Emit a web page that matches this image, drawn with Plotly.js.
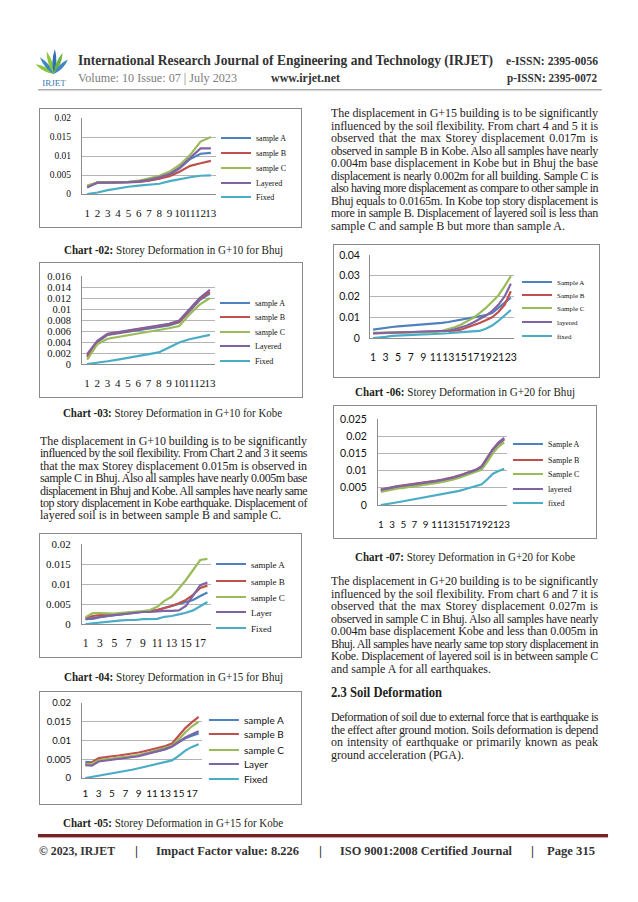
<!DOCTYPE html>
<html>
<head>
<meta charset="utf-8">
<script src="https://cdn.plot.ly/plotly-3.0.1.min.js"></script>
<style>
  body { margin: 0; width: 638px; height: 902px; background: #fff; position: relative; overflow: hidden;
         font-family: "Liberation Serif", serif; color: #231f20; }
  .t { position: absolute; white-space: nowrap; line-height: 14px; display: inline-block; }
  .ln { position: absolute; white-space: nowrap; text-align: justify; text-align-last: justify;
        font-size: 12px; line-height: 14px; color: #1f1b1c; }
  .box { position: absolute; border: 1px solid #8a8a8a; box-sizing: border-box; }
  .plot { position: absolute; }
</style>
</head>
<body>

<svg style="position:absolute;left:36px;top:43px" width="36" height="46">
  <g transform="translate(18,31)">
    <path d="M0,0 Q4,-10 0,-21 Q-4,-10 0,0Z" fill="#8cc63f" transform="rotate(-62)"/>
    <path d="M0,0 Q4,-10 0,-22 Q-4,-10 0,0Z" fill="#3f86c6" transform="rotate(-40)"/>
    <path d="M0,0 Q4,-11 0,-24 Q-4,-11 0,0Z" fill="#8cc63f" transform="rotate(-18)"/>
    <path d="M0,0 Q4,-11 0,-25 Q-4,-11 0,0Z" fill="#2f6fb3" transform="rotate(2)"/>
    <path d="M0,0 Q4,-11 0,-23 Q-4,-11 0,0Z" fill="#6db33f" transform="rotate(22)"/>
    <path d="M0,0 Q4,-10 0,-20 Q-4,-10 0,0Z" fill="#3f86c6" transform="rotate(44)"/>
  </g>
  <text x="18" y="43" text-anchor="middle" font-family="Liberation Serif" font-size="9" fill="#3a79b8">IRJET</text>
</svg>

<div id="c02" class="plot"></div>
<div id="c03" class="plot"></div>
<div id="c04" class="plot"></div>
<div id="c05" class="plot"></div>
<div id="c06" class="plot"></div>
<div id="c07" class="plot"></div>

<div style="position:absolute;left:38px;top:89px;width:564px;height:1px;background:#a9a9a9;box-shadow:0 1px 1px #d0d0d0"></div>
<div style="position:absolute;left:38px;top:834px;width:570px;height:3px;background:#7a1f24;box-shadow:0 1px 1px #b9a3a3"></div>

<script>
// ---- data: storey numbers and axis labels ----
const storeys13 = [1, 2, 3, 4, 5, 6, 7, 8, 9, 10, 11, 12, 13];
const storeys18 = [1, 2, 3, 4, 5, 6, 7, 8, 9, 10, 11, 12, 13, 14, 15, 16, 17, 18];
const storeys23 = [1, 2, 3, 4, 5, 6, 7, 8, 9, 10, 11, 12, 13, 14, 15, 16, 17, 18, 19, 20, 21, 22, 23];
const ticks13 = [1, 2, 3, 4, 5, 6, 7, 8, 9, 10, 11, 12, 13];
const ticks18 = [1, 3, 5, 7, 9, 11, 13, 15, 17];
const ticks23 = [1, 3, 5, 7, 9, 11, 13, 15, 17, 19, 21, 23];

const namesG10 = ['sample A', 'sample B', 'sample C', 'Layered', 'Fixed'];
const namesG15 = ['sample A', 'sample B', 'sample C', 'Layer', 'Fixed'];
const namesG20 = ['Sample A', 'Sample B', 'Sample C', 'layered', 'fixed'];

const seriesColors = ['#4F81BD', '#C0504D', '#9BBB59', '#8064A2', '#4BACC6'];

// chart 02 - G+10 Bhuj
const g10BhujA = [0.002, 0.003, 0.003, 0.003, 0.0031, 0.0032, 0.0036, 0.0041, 0.005, 0.0068, 0.0092, 0.0106, 0.0108];
const g10BhujB = [0.002, 0.003, 0.003, 0.003, 0.0031, 0.0032, 0.0035, 0.004, 0.0047, 0.0059, 0.0074, 0.0081, 0.0087];
const g10BhujC = [0.0022, 0.003, 0.003, 0.0031, 0.0032, 0.0035, 0.0041, 0.0048, 0.0059, 0.0077, 0.0103, 0.0138, 0.015];
const g10BhujL = [0.0017, 0.003, 0.003, 0.003, 0.0031, 0.0033, 0.0037, 0.0044, 0.0053, 0.007, 0.0094, 0.012, 0.012];
const g10BhujF = [0, 0.0004, 0.001, 0.0015, 0.0019, 0.0022, 0.0025, 0.0027, 0.0034, 0.004, 0.0044, 0.0048, 0.0049];

// chart 03 - G+10 Kobe
const g10KobeA = [0.0015, 0.004, 0.0053, 0.0056, 0.0059, 0.0062, 0.0065, 0.0068, 0.007, 0.0076, 0.0096, 0.0116, 0.0128];
const g10KobeB = [0.0013, 0.0041, 0.0054, 0.0057, 0.006, 0.0063, 0.0066, 0.0069, 0.0072, 0.0077, 0.0098, 0.0118, 0.0131];
const g10KobeC = [0.0008, 0.0036, 0.0046, 0.0049, 0.0052, 0.0056, 0.0059, 0.0062, 0.0065, 0.0069, 0.009, 0.0108, 0.012];
const g10KobeL = [0.0018, 0.0042, 0.0055, 0.0058, 0.0061, 0.0064, 0.0067, 0.007, 0.0073, 0.0079, 0.01, 0.012, 0.0135];
const g10KobeF = [0, 0.0002, 0.0005, 0.0008, 0.0011, 0.0015, 0.0018, 0.0021, 0.003, 0.0039, 0.0045, 0.0049, 0.0053];

// chart 04 - G+15 Bhuj
const g15BhujA = [0.0012, 0.0013, 0.0017, 0.002, 0.0022, 0.0024, 0.0026, 0.0028, 0.003, 0.0032, 0.0035, 0.004, 0.0045, 0.005, 0.0055, 0.006, 0.007, 0.0079];
const g15BhujB = [0.0015, 0.002, 0.0022, 0.0022, 0.0024, 0.0026, 0.0028, 0.003, 0.003, 0.0032, 0.0035, 0.004, 0.0045, 0.0052, 0.006, 0.0073, 0.009, 0.0096];
const g15BhujC = [0.0017, 0.0027, 0.0027, 0.0026, 0.0026, 0.0028, 0.0029, 0.003, 0.0032, 0.0035, 0.0043, 0.0058, 0.0068, 0.0088, 0.011, 0.0135, 0.016, 0.0163];
const g15BhujL = [0.0012, 0.0015, 0.0018, 0.002, 0.0022, 0.0024, 0.0025, 0.0028, 0.003, 0.003, 0.0032, 0.0033, 0.0033, 0.0034, 0.0045, 0.007, 0.0097, 0.0104];
const g15BhujF = [0, 0.0002, 0.0003, 0.0005, 0.0008, 0.0009, 0.001, 0.001, 0.0012, 0.0013, 0.0013, 0.0018, 0.002, 0.0024, 0.0028, 0.0034, 0.0044, 0.0055];

// chart 05 - G+15 Kobe
const g15KobeA = [0.0043, 0.0042, 0.0047, 0.0048, 0.005, 0.0052, 0.0054, 0.0057, 0.006, 0.0065, 0.0068, 0.0072, 0.0077, 0.0084, 0.0095, 0.0106, 0.0113, 0.0119];
const g15KobeB = [0.0035, 0.0042, 0.0053, 0.0056, 0.0058, 0.006, 0.0062, 0.0065, 0.0068, 0.0072, 0.0076, 0.008, 0.0085, 0.0092, 0.0113, 0.0133, 0.0149, 0.0163];
const g15KobeC = [0.0036, 0.0038, 0.0047, 0.0049, 0.0051, 0.0053, 0.0056, 0.0058, 0.0061, 0.0065, 0.007, 0.0074, 0.0079, 0.0086, 0.0103, 0.0122, 0.0138, 0.015];
const g15KobeL = [0.0034, 0.0033, 0.0044, 0.0046, 0.0048, 0.005, 0.0053, 0.0055, 0.0058, 0.0063, 0.0067, 0.0071, 0.0077, 0.0084, 0.0096, 0.0108, 0.0117, 0.0125];
const g15KobeF = [0, 0.0003, 0.0007, 0.001, 0.0013, 0.0016, 0.0019, 0.0022, 0.0026, 0.003, 0.0034, 0.0039, 0.0043, 0.0047, 0.0059, 0.0073, 0.0083, 0.009];

// chart 06 - G+20 Bhuj
const g20BhujA = [0.004, 0.0045, 0.005, 0.0053, 0.0056, 0.0058, 0.006, 0.0062, 0.0064, 0.0067, 0.007, 0.0073, 0.0077, 0.0082, 0.0087, 0.0092, 0.0097, 0.0103, 0.011, 0.012, 0.0145, 0.017, 0.0195];
const g20BhujB = [0.0022, 0.0023, 0.0024, 0.0025, 0.0026, 0.0026, 0.0027, 0.0027, 0.0028, 0.0028, 0.0029, 0.003, 0.0032, 0.0035, 0.004, 0.005, 0.006, 0.0072, 0.0085, 0.01, 0.0125, 0.016, 0.0225];
const g20BhujC = [0.0025, 0.0025, 0.0026, 0.0027, 0.0027, 0.0027, 0.0027, 0.0028, 0.0028, 0.0029, 0.003, 0.0035, 0.0042, 0.0052, 0.0064, 0.008, 0.0097, 0.012, 0.0145, 0.0175, 0.0205, 0.025, 0.0298];
const g20BhujL = [0.0023, 0.0024, 0.0025, 0.0026, 0.0026, 0.0027, 0.0027, 0.0028, 0.0028, 0.0029, 0.003, 0.0032, 0.0035, 0.0042, 0.005, 0.006, 0.0075, 0.009, 0.0108, 0.013, 0.016, 0.02, 0.0262];
const g20BhujF = [0, 0.0002, 0.0005, 0.001, 0.0012, 0.0014, 0.0015, 0.0016, 0.0017, 0.0018, 0.0019, 0.002, 0.0023, 0.0026, 0.0028, 0.003, 0.0032, 0.0034, 0.0045, 0.006, 0.0082, 0.0108, 0.0135];

// chart 07 - G+20 Kobe
const g20KobeA = [0.0042, 0.0046, 0.005, 0.0052, 0.0054, 0.0056, 0.0058, 0.006, 0.0062, 0.0065, 0.0068, 0.0071, 0.0074, 0.0078, 0.0083, 0.0089, 0.0095, 0.01, 0.0109, 0.0135, 0.016, 0.0178, 0.019];
const g20KobeB = [0.0045, 0.0049, 0.0053, 0.0055, 0.0057, 0.0059, 0.0061, 0.0063, 0.0065, 0.0068, 0.0071, 0.0074, 0.0077, 0.0081, 0.0086, 0.0092, 0.0098, 0.0103, 0.0113, 0.0138, 0.0163, 0.018, 0.0193];
const g20KobeC = [0.0038, 0.0042, 0.0045, 0.0048, 0.005, 0.0052, 0.0054, 0.0056, 0.0058, 0.0061, 0.0064, 0.0067, 0.007, 0.0074, 0.0079, 0.0085, 0.009, 0.0096, 0.0103, 0.0126, 0.0151, 0.017, 0.0182];
const g20KobeL = [0.0044, 0.0048, 0.0052, 0.0054, 0.0056, 0.0058, 0.006, 0.0062, 0.0064, 0.0067, 0.007, 0.0073, 0.0076, 0.008, 0.0085, 0.0091, 0.0097, 0.0102, 0.0112, 0.0137, 0.0162, 0.0182, 0.0195];
const g20KobeF = [0, 0.0002, 0.0005, 0.0008, 0.0011, 0.0014, 0.0017, 0.002, 0.0022, 0.0025, 0.0028, 0.003, 0.0033, 0.0036, 0.0041, 0.0046, 0.005, 0.0054, 0.006, 0.0075, 0.0091, 0.0099, 0.0105];

const SERIF = 'Liberation Serif';
const SANS = 'Lato';

// box = outer frame in page px, plot = plot area in page px
function drawChart(id, box, plot, xs, ticks, series, names, yMax, yStep, f, legendX, legendYs) {
  const el = document.getElementById(id);
  el.style.left = box[0] + 'px';
  el.style.top = box[1] + 'px';
  const frame = document.createElement('div');
  frame.className = 'box';
  frame.style.cssText = 'left:' + box[0] + 'px;top:' + box[1] + 'px;width:' + box[2] + 'px;height:' + box[3] + 'px';
  document.body.appendChild(frame);

  const pw = plot[2] - plot[0], ph = plot[3] - plot[1];
  const traces = series.map((ys, i) => ({
    x: xs, y: ys, type: 'scatter', mode: 'lines', name: names[i],
    line: { color: seriesColors[i], width: 2.2 },
    legend: i === 0 ? 'legend' : 'legend' + (i + 1)
  }));

  const layout = {
    width: box[2], height: box[3],
    margin: { l: plot[0] - box[0], r: box[0] + box[2] - plot[2], t: plot[1] - box[1], b: box[1] + box[3] - plot[3], pad: 0 },
    paper_bgcolor: 'rgba(0,0,0,0)', plot_bgcolor: 'rgba(0,0,0,0)',
    showlegend: true,
    xaxis: {
      range: [0.5, xs.length + 0.5], tickmode: 'array', tickvals: ticks, ticktext: ticks.map(String),
      tickangle: 0, showgrid: false, zeroline: false, showline: true, linecolor: '#8c8c8c', linewidth: 1,
      ticks: '', ticklabelstandoff: f.xOff, tickfont: { family: f.tick, size: f.xSize, color: '#111' }
    },
    yaxis: {
      range: [0, yMax], tick0: 0, dtick: yStep, showgrid: true, gridcolor: '#b4b4b4', gridwidth: 1,
      zeroline: false, showline: true, linecolor: '#8c8c8c', linewidth: 1,
      ticks: '', ticklabelstandoff: f.yOff, tickfont: { family: f.tick, size: f.ySize, color: '#111' }
    }
  };
  legendYs.forEach((py, i) => {
    layout[i === 0 ? 'legend' : 'legend' + (i + 1)] = {
      x: (legendX - 40 - plot[0]) / pw, y: (plot[3] - py) / ph,
      xanchor: 'left', yanchor: 'middle', bgcolor: 'rgba(0,0,0,0)', borderwidth: 0,
      font: { family: f.legend, size: f.lSize, color: '#111' }
    };
  });
  Plotly.newPlot(el, traces, layout, { staticPlot: true, displayModeBar: false });
}

drawChart('c02', [39, 108, 263, 120], [82, 118, 228, 194], storeys13, ticks13,
  [g10BhujA, g10BhujB, g10BhujC, g10BhujL, g10BhujF], namesG10, 0.02, 0.005,
  { tick: SERIF, xSize: 11, ySize: 9.5, xOff: 9, yOff: 8, legend: SERIF, lSize: 8 },
  268, [138, 153, 168, 183, 197]);

drawChart('c03', [39, 262, 264, 136], [82, 276, 228, 364], storeys13, ticks13,
  [g10KobeA, g10KobeB, g10KobeC, g10KobeL, g10KobeF], namesG10, 0.016, 0.002,
  { tick: SERIF, xSize: 11, ySize: 10.5, xOff: 9, yOff: 8, legend: SERIF, lSize: 8 },
  268, [303, 317, 332, 346, 361]);

drawChart('c04', [39, 533, 263, 125], [82, 544, 217, 624], storeys18, ticks18,
  [g15BhujA, g15BhujB, g15BhujC, g15BhujL, g15BhujF], namesG15, 0.02, 0.005,
  { tick: SERIF, xSize: 11.5, ySize: 11, xOff: 8, yOff: 8, legend: SERIF, lSize: 9 },
  257, [564, 581, 597, 612, 628]);

drawChart('c05', [39, 691, 263, 114], [82, 703, 208, 778], storeys18, ticks18,
  [g15KobeA, g15KobeB, g15KobeC, g15KobeL, g15KobeF], namesG15, 0.02, 0.005,
  { tick: SANS, xSize: 10, ySize: 9.5, xOff: 6, yOff: 8, legend: SANS, lSize: 10 },
  250, [720, 734, 750, 764, 779]);

drawChart('c06', [333, 244, 267, 134], [370, 255, 515, 338], storeys23, ticks23,
  [g20BhujA, g20BhujB, g20BhujC, g20BhujL, g20BhujF], namesG20, 0.04, 0.01,
  { tick: SANS, xSize: 10.5, ySize: 10.5, xOff: 9, yOff: 7, legend: SERIF, lSize: 7 },
  557, [282, 295, 308, 322, 336]);

drawChart('c07', [333, 405, 264, 134], [378, 419, 512, 505], storeys23, ticks23,
  [g20KobeA, g20KobeB, g20KobeC, g20KobeL, g20KobeF], namesG20, 0.025, 0.005,
  { tick: SANS, xSize: 9.8, ySize: 10.5, xOff: 10, yOff: 8, legend: SERIF, lSize: 8 },
  553, [444, 460, 474, 489, 503]);

// ---- page text ----
function put(html, x0, x1, y, css) {
  const s = document.createElement('span');
  s.className = 't';
  s.style.cssText = css || '';
  s.style.left = x0 + 'px';
  s.style.top = (y - 7) + 'px';
  s.innerHTML = html;
  document.body.appendChild(s);
  const w = s.getBoundingClientRect().width;
  s.style.transformOrigin = '0 50%';
  s.style.transform = 'scaleX(' + ((x1 - x0) / w) + ')';
}

function para(x, y0, dy, w, lines) {
  lines.forEach((t, i) => {
    const d = document.createElement('div');
    d.className = 'ln';
    d.style.left = x + 'px';
    d.style.top = (y0 + i * dy - 7) + 'px';
    d.style.width = w + 'px';
    if (i === lines.length - 1) d.style.textAlignLast = 'left';
    document.body.appendChild(d);
    const m = document.createElement('span');
    m.style.cssText = 'position:absolute;visibility:hidden;white-space:nowrap';
    m.textContent = t;
    d.appendChild(m);
    const nat = m.getBoundingClientRect().width;
    d.removeChild(m);
    d.textContent = t;
    if (nat > w - 1) d.style.letterSpacing = ((w - 1 - nat) / t.length) + 'px';
  });
}

// header
put('International Research Journal of Engineering and Technology (IRJET)', 78, 493, 61, 'font-size:14px;font-weight:bold;color:#333');
put('e-ISSN: 2395-0056', 506, 598, 61, 'font-size:12px;font-weight:bold;color:#333');
put('Volume: 10 Issue: 07 | July 2023', 78, 237, 78, 'font-size:12px;color:#7d7d7d');
put('www.irjet.net', 271, 340, 78, 'font-size:12px;font-weight:bold;color:#333');
put('p-ISSN: 2395-0072', 507, 597, 78, 'font-size:12px;font-weight:bold;color:#333');

// captions
const capCss = 'font-size:12px;color:#231f20';
put('<b>Chart -02:</b> Storey Deformation in G+10 for Bhuj', 64, 283, 250, capCss);
put('<b>Chart -03:</b> Storey Deformation in G+10 for Kobe', 63, 282, 413, capCss);
put('<b>Chart -04:</b> Storey Deformation in G+15 for Bhuj', 64, 283, 677, capCss);
put('<b>Chart -05:</b> Storey Deformation in G+15 for Kobe', 63, 283, 823, capCss);
put('<b>Chart -06:</b> Storey Deformation in G+20 for Bhuj', 355, 575, 392, capCss);
put('<b>Chart -07:</b> Storey Deformation in G+20 for Kobe', 355, 575, 557, capCss);

para(40, 441, 12.4, 267, [
  'The displacement in G+10 building is to be significantly',
  'influenced by the soil flexibility. From Chart 2 and 3 it seems',
  'that the max Storey displacement 0.015m is observed in',
  'sample C in Bhuj. Also all samples have nearly 0.005m base',
  'displacement in Bhuj and Kobe. All samples have nearly same',
  'top story displacement in Kobe earthquake. Displacement of',
  'layered soil is in between sample B and sample C.'
]);

para(331, 113, 12.5, 267, [
  'The displacement in G+15 building is to be significantly',
  'influenced by the soil flexibility. From chart 4 and 5 it is',
  'observed that the max Storey displacement 0.017m is',
  'observed in sample B in Kobe. Also all samples have nearly',
  '0.004m base displacement in Kobe but in Bhuj the base',
  'displacement is nearly 0.002m for all building. Sample C is',
  'also having more displacement as compare to other sample in',
  'Bhuj equals to 0.0165m. In Kobe top story displacement is',
  'more in sample B. Displacement of layered soil is less than',
  'sample C and sample B but more than sample A.'
]);

para(331, 581, 12.5, 267, [
  'The displacement in G+20 building is to be significantly',
  'influenced by the soil flexibility. From chart 6 and 7 it is',
  'observed that the max Storey displacement 0.027m is',
  'observed in sample C in Bhuj. Also all samples have nearly',
  '0.004m base displacement Kobe and less than 0.005m in',
  'Bhuj. All samples have nearly same top story displacement in',
  'Kobe. Displacement of layered soil is in between sample C',
  'and sample A for all earthquakes.'
]);

put('2.3 Soil Deformation', 331, 442, 693, 'font-size:14px;font-weight:bold;color:#231f20');

para(331, 717, 12.5, 267, [
  'Deformation of soil due to external force that is earthquake is',
  'the effect after ground motion. Soils deformation is depend',
  'on intensity of earthquake or primarily known as peak',
  'ground acceleration (PGA).'
]);

// footer
const footCss = 'font-size:12.5px;font-weight:bold;color:#333';
put('© 2023, IRJET', 39, 115, 851, footCss);
put('|', 135, 138, 851, footCss);
put('Impact Factor value: 8.226', 156, 299, 851, footCss);
put('|', 319, 322, 851, footCss);
put('ISO 9001:2008 Certified Journal', 340, 512, 851, footCss);
put('|', 531, 534, 851, footCss);
put('Page 315', 547, 595, 851, footCss);
</script>
</body>
</html>
